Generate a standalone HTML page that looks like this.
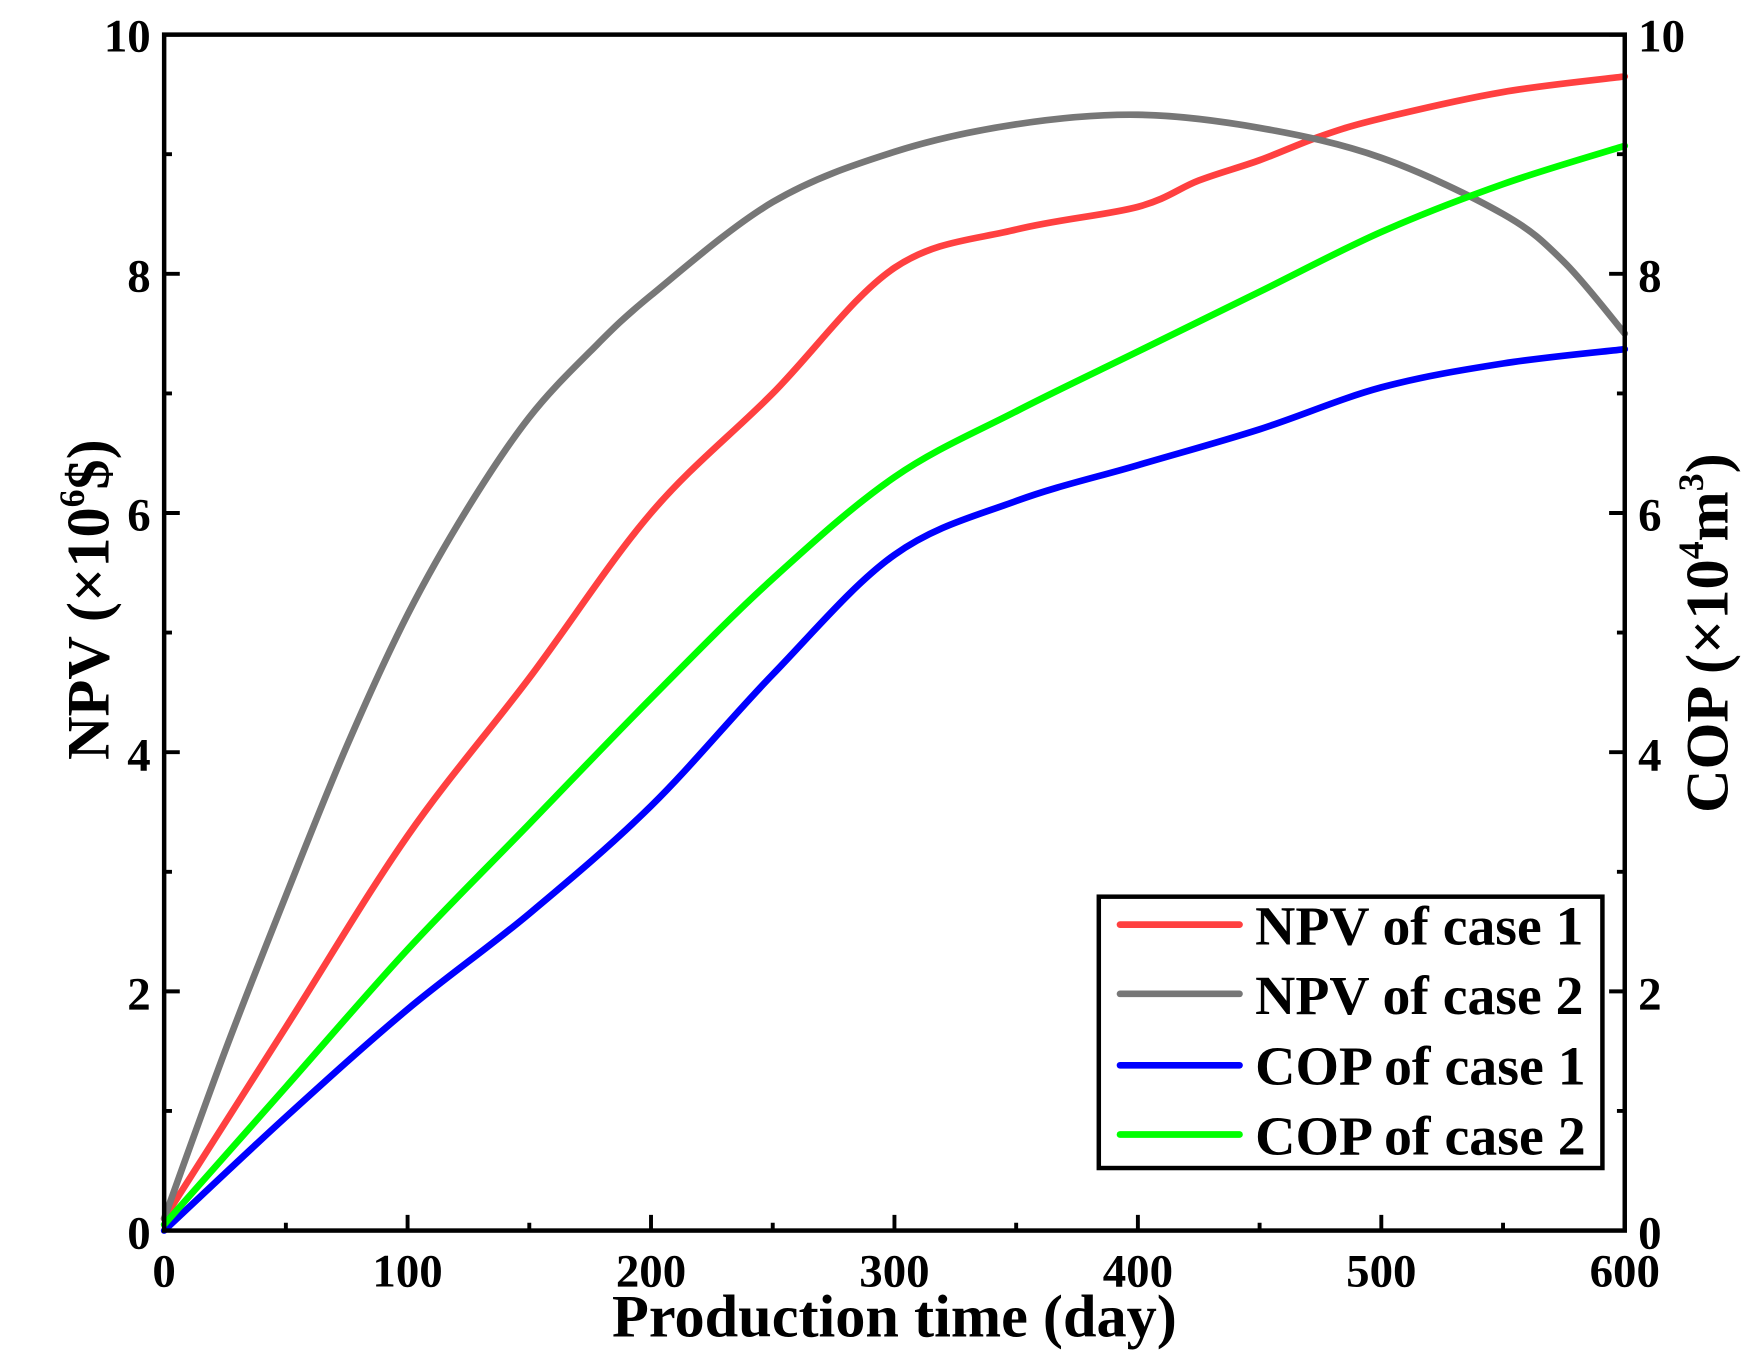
<!DOCTYPE html>
<html><head><meta charset="utf-8"><style>
html,body{margin:0;padding:0;background:#fff;}
svg{display:block;}
text{font-family:"Liberation Serif",serif;font-weight:bold;fill:#000;}
</style></head><body>
<svg id="s" width="1742" height="1363" viewBox="0 0 1560 1220.6" preserveAspectRatio="none" xmlns="http://www.w3.org/2000/svg">
<g id="curves" fill="none" stroke-width="6" stroke-linejoin="round" stroke-linecap="round"></g>
<g id="ticks" stroke="#000" stroke-width="3.5"></g>
<rect x="147" y="31" width="1308" height="1071" fill="none" stroke="#000" stroke-width="4"/>
<g font-size="42">
<text x="147" y="1152" text-anchor="middle">0</text>
<text x="365" y="1152" text-anchor="middle">100</text>
<text x="583" y="1152" text-anchor="middle">200</text>
<text x="801" y="1152" text-anchor="middle">300</text>
<text x="1019" y="1152" text-anchor="middle">400</text>
<text x="1237" y="1152" text-anchor="middle">500</text>
<text x="1455" y="1152" text-anchor="middle">600</text>
<g text-anchor="end">
<text x="135" y="1118">0</text><text x="135" y="904">2</text><text x="135" y="690">4</text>
<text x="135" y="475">6</text><text x="135" y="261">8</text><text x="135" y="46">10</text>
</g>
<g text-anchor="start">
<text x="1467" y="1118">0</text><text x="1467" y="904">2</text><text x="1467" y="690">4</text>
<text x="1467" y="475">6</text><text x="1467" y="261">8</text><text x="1467" y="46">10</text>
</g>
</g>
<text x="801" y="1197" font-size="54" text-anchor="middle">Production time (day)</text>
<text transform="translate(97,537) rotate(-90)" font-size="54" text-anchor="middle">NPV (×10<tspan font-size="32" dy="-22">6</tspan><tspan dy="22">$)</tspan></text>
<text transform="translate(1547,567) rotate(-90)" font-size="54" text-anchor="middle">COP (×10<tspan font-size="32" dy="-22">4</tspan><tspan dy="22">m</tspan><tspan font-size="32" dy="-22">3</tspan><tspan dy="22">)</tspan></text>
<rect x="984" y="803" width="451" height="243" fill="#fff" stroke="#000" stroke-width="4"/>
<g stroke-width="6" stroke-linecap="round">
<line x1="1003" y1="828" x2="1110" y2="828" stroke="#ff4040"/>
<line x1="1003" y1="890" x2="1110" y2="890" stroke="#777"/>
<line x1="1003" y1="954" x2="1110" y2="954" stroke="#0000ff"/>
<line x1="1003" y1="1016" x2="1110" y2="1016" stroke="#00ff00"/>
</g>
<g font-size="49">
<text x="1124" y="846" textLength="294" lengthAdjust="spacingAndGlyphs">NPV of case 1</text>
<text x="1124" y="908" textLength="294" lengthAdjust="spacingAndGlyphs">NPV of case 2</text>
<text x="1124" y="971" textLength="296" lengthAdjust="spacingAndGlyphs">COP of case 1</text>
<text x="1124" y="1034" textLength="296" lengthAdjust="spacingAndGlyphs">COP of case 2</text>
</g>
</svg>
<script>
(function(){
var X=function(d){return 147+d*1308/600;},Y=function(v){return 1102-v*107.1;};
var data={
"#ff4040":[[0,0.1],[50,1.7],[100,3.3],[150,4.62],[200,6.0],[250,7.0],[300,8.05],[350,8.37],[400,8.56],[425,8.78],[450,8.95],[475,9.15],[500,9.3],[550,9.52],[600,9.65]],
"#777":[[0,0.1],[25,1.5],[50,2.8],[75,4.05],[100,5.15],[125,6.05],[150,6.8],[175,7.35],[200,7.82],[250,8.6],[300,9.02],[350,9.25],[400,9.33],[450,9.22],[500,8.97],[550,8.5],[575,8.1],[600,7.5]],
"#0000ff":[[0,0],[50,0.95],[100,1.85],[150,2.65],[200,3.55],[250,4.65],[300,5.65],[350,6.1],[400,6.4],[450,6.7],[500,7.05],[550,7.25],[600,7.37]],
"#00ff00":[[0,0.05],[50,1.2],[100,2.35],[150,3.4],[200,4.45],[250,5.45],[300,6.3],[350,6.85],[400,7.35],[450,7.85],[500,8.35],[550,8.75],[600,9.07]]};
var g=document.getElementById("curves"),ns="http://www.w3.org/2000/svg";
["#ff4040","#777","#0000ff","#00ff00"].forEach(function(c){
 var p=data[c].map(function(a){return [X(a[0]),Y(a[1])];});
 var d="M"+p[0][0]+","+p[0][1];
 for(var i=0;i<p.length-1;i++){
  var p0=p[i>0?i-1:i],p1=p[i],p2=p[i+1],p3=p[i+2<p.length?i+2:i+1];
  var c1=[p1[0]+(p2[0]-p0[0])/6,p1[1]+(p2[1]-p0[1])/6],c2=[p2[0]-(p3[0]-p1[0])/6,p2[1]-(p3[1]-p1[1])/6];
  d+=" C"+c1+" "+c2+" "+p2;
 }
 var e=document.createElementNS(ns,"path");e.setAttribute("d",d);e.setAttribute("stroke",c);g.appendChild(e);
});
var t=document.getElementById("ticks"),s="";
for(var d=0;d<=600;d+=50){var x=X(d),L=d%100?7:14;s+="M"+x+",1102V"+(1102-L);}
for(var v=0;v<=10;v++){var y=Y(v),L=v%2?7:14;s+="M147,"+y+"H"+(147+L)+"M1455,"+y+"H"+(1455-L);}
var e=document.createElementNS(ns,"path");e.setAttribute("d",s);t.appendChild(e);
})();
</script>
</body></html>
